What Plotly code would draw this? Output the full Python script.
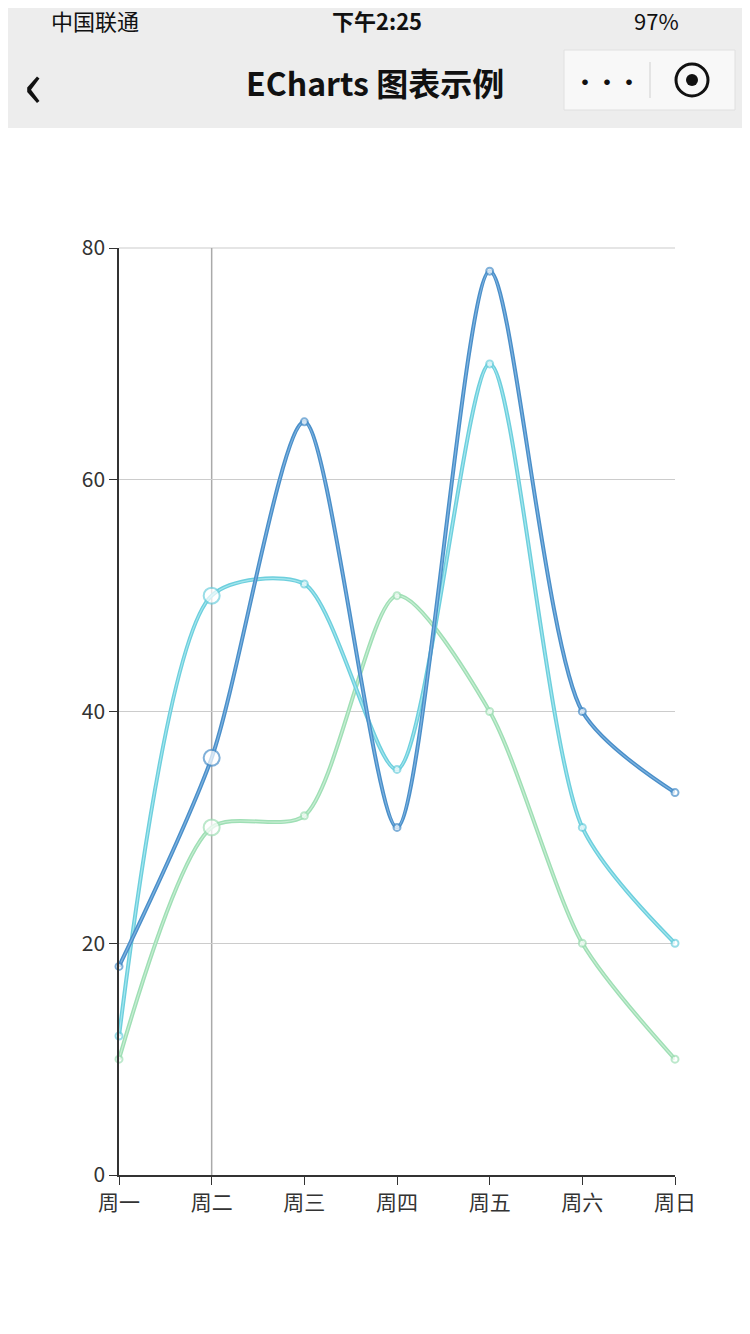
import plotly.graph_objects as go

days = ["周一", "周二", "周三", "周四", "周五", "周六", "周日"]
series_a = [18, 36, 65, 30, 78, 40, 33]
series_b = [12, 50, 51, 35, 70, 30, 20]
series_c = [10, 30, 31, 50, 40, 20, 10]
y_ticks = [0, 20, 40, 60, 80]

colors = ["#4a8fc9", "#6dcfdd", "#9fdfb5"]
inner = ["#7fb3e0", "#a5e6ee", "#c8eed4"]
sizes = [7, 16, 7, 7, 7, 7, 7]

fig = go.Figure()
for vals, c, ic in zip([series_c, series_b, series_a], colors[::-1], inner[::-1]):
    fig.add_trace(go.Scatter(x=days, y=vals, mode="lines", line=dict(color=c, width=4, shape="spline", smoothing=0.75), hoverinfo="skip", showlegend=False, cliponaxis=False))
    fig.add_trace(go.Scatter(x=days, y=vals, mode="lines+markers", line=dict(color=ic, width=1.2, shape="spline", smoothing=0.75),
                             marker=dict(size=sizes, color="white", line=dict(color=c, width=2)), showlegend=False, cliponaxis=False))

def px(x):
    return (x - 119) / 556
def py(y):
    return (1175 - y) / 927

shapes = [
    dict(type="rect", xref="paper", yref="paper", x0=px(0), x1=px(760), y0=py(128), y1=py(0), fillcolor="#ededed", line=dict(width=0), layer="below"),
    dict(type="rect", xref="paper", yref="paper", x0=px(564), x1=px(735), y0=py(110), y1=py(50), fillcolor="#f8f8f8", line=dict(color="#e0e0e0", width=1)),
    dict(type="line", xref="paper", yref="paper", x0=px(650), x1=px(650), y0=py(62), y1=py(98), line=dict(color="#d0d0d0", width=1)),
    dict(type="circle", xref="paper", yref="paper", x0=px(676), x1=px(708), y0=py(96), y1=py(64), line=dict(color="#111", width=3)),
    dict(type="circle", xref="paper", yref="paper", x0=px(686), x1=px(698), y0=py(86), y1=py(74), fillcolor="#111", line=dict(width=0)),
    dict(type="line", xref="paper", yref="paper", x0=0, x1=1, y0=1, y1=1, line=dict(color="#cccccc", width=1.2), layer="below"),
    dict(type="line", xref="x", yref="paper", x0="周二", x1="周二", y0=0, y1=1, line=dict(color="#aaaaaa", width=1.5), layer="below"),
]
ann = [
    dict(text="<b>ECharts 图表示例</b>", x=px(375), y=py(82), font=dict(size=32, color="#111")),
    dict(text="<b>下午2:25</b>", x=px(377), y=py(20), font=dict(size=22, color="#111")),
    dict(text="中国联通", x=px(95), y=py(20), font=dict(size=22, color="#111")),
    dict(text="97%", x=px(656), y=py(20), font=dict(size=22, color="#111")),
    dict(text="‹", x=px(33), y=py(80), font=dict(size=64, color="#111")),
    dict(text="<b>•••</b>", x=px(607), y=py(80), font=dict(size=22, color="#111")),
]
for a in ann:
    a.update(xref="paper", yref="paper", showarrow=False, xanchor="center", yanchor="middle")

fig.update_layout(
    width=750, height=1334, margin=dict(l=111, r=83, t=240, b=167),
    paper_bgcolor="white", plot_bgcolor="white",
    font=dict(family="Noto Sans CJK SC", size=20, color="#333"),
    shapes=shapes, annotations=ann,
    xaxis=dict(type="category", range=[0, 6], showgrid=False, showline=True, linecolor="#333", linewidth=1.5,
               ticks="outside", ticklen=8, tickcolor="#333", tickfont=dict(size=21, color="#333"), fixedrange=True),
    yaxis=dict(range=[0, 80], tickvals=y_ticks, showgrid=True, gridcolor="#cccccc", gridwidth=1.2, zeroline=False,
               showline=True, linecolor="#333", linewidth=1.5, ticks="outside", ticklen=8, tickcolor="#333",
               tickfont=dict(size=21, color="#333"), fixedrange=True),
)
fig.write_html("out.html")
